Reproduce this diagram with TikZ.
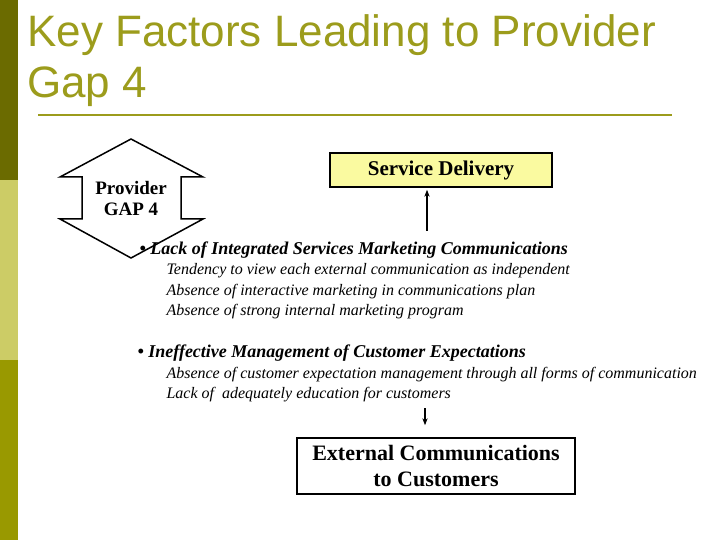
\documentclass[tikz,border=0pt]{standalone}
\usepackage{fontspec}
\setmainfont{Liberation Serif}
\newfontfamily\titlefont{Liberation Sans}
\usetikzlibrary{arrows.meta}
\definecolor{olivedark}{HTML}{6B6B00}
\definecolor{olivelight}{HTML}{CCCC66}
\definecolor{olivemid}{HTML}{999900}
\definecolor{titlecol}{HTML}{9C9C1C}
\definecolor{boxfill}{HTML}{FAFAA0}
\begin{document}
\begin{tikzpicture}[x=1pt,y=-1pt,
  factor/.style={anchor=west,font=\bfseries\itshape\fontsize{18}{20}\selectfont},
  detail/.style={anchor=west,font=\itshape\fontsize{16}{18}\selectfont},
  boxnode/.style={draw,line width=1.5pt,align=center,inner sep=0pt}]
\useasboundingbox (0,0) rectangle (720,540);

% Side bars
\fill[olivedark] (0,0) rectangle (18,180);
\fill[olivelight] (0,180) rectangle (18,360);
\fill[olivemid] (0,360) rectangle (18,540);

% Title
\node[anchor=north west,align=left,text=titlecol,inner sep=0pt,font=\titlefont\fontsize{44}{51}\selectfont] (title) at (27,14) {Key Factors Leading to Provider\\Gap 4};
\draw[titlecol,line width=2.5pt] (38,115) -- (672,115);

% Gap shape
\draw[line width=1.5pt] (131,139) -- (203,177) -- (181,177) -- (181,219) -- (203,219) -- (131,258)
  -- (60,219) -- (82,219) -- (82,177) -- (60,177) -- cycle;
\node[align=center,font=\bfseries\fontsize{19}{21}\selectfont] (gap) at (131,199) {Provider\\GAP 4};

% Boxes
\node[boxnode,fill=boxfill,minimum width=222,minimum height=34,font=\bfseries\fontsize{21}{24}\selectfont] (delivery) at (441,170) {Service Delivery};
\node[boxnode,fill=white,minimum width=278,minimum height=56,font=\bfseries\fontsize{22}{26}\selectfont] (external) at (436,466) {External Communications\\to Customers};

% Factors
\node[factor] (f1) at (136,250) {\textbullet\ Lack of Integrated Services Marketing Communications};
\node[detail] (d11) at (163,271) {Tendency to view each external communication as independent};
\node[detail] (d12) at (163,292) {Absence of interactive marketing in communications plan};
\node[detail] (d13) at (163,312) {Absence of strong internal marketing program};
\node[factor] (f2) at (134,353) {\textbullet\ Ineffective Management of Customer Expectations};
\node[detail] (d21) at (163,375) {Absence of customer expectation management through all forms of communication};
\node[detail] (d22) at (163,395) {Lack of \ adequately education for customers};

% Arrows
\coordinate (up) at (427,231);
\coordinate (down) at (425,408);
\draw[line width=1.5pt,-{Stealth[length=7pt]}] (up) -- ([yshift=-2pt]delivery.south -| up);
\draw[line width=1.5pt,-{Stealth[length=7pt]}] (down) -- ([yshift=12pt]external.north -| down);
\end{tikzpicture}
\end{document}
